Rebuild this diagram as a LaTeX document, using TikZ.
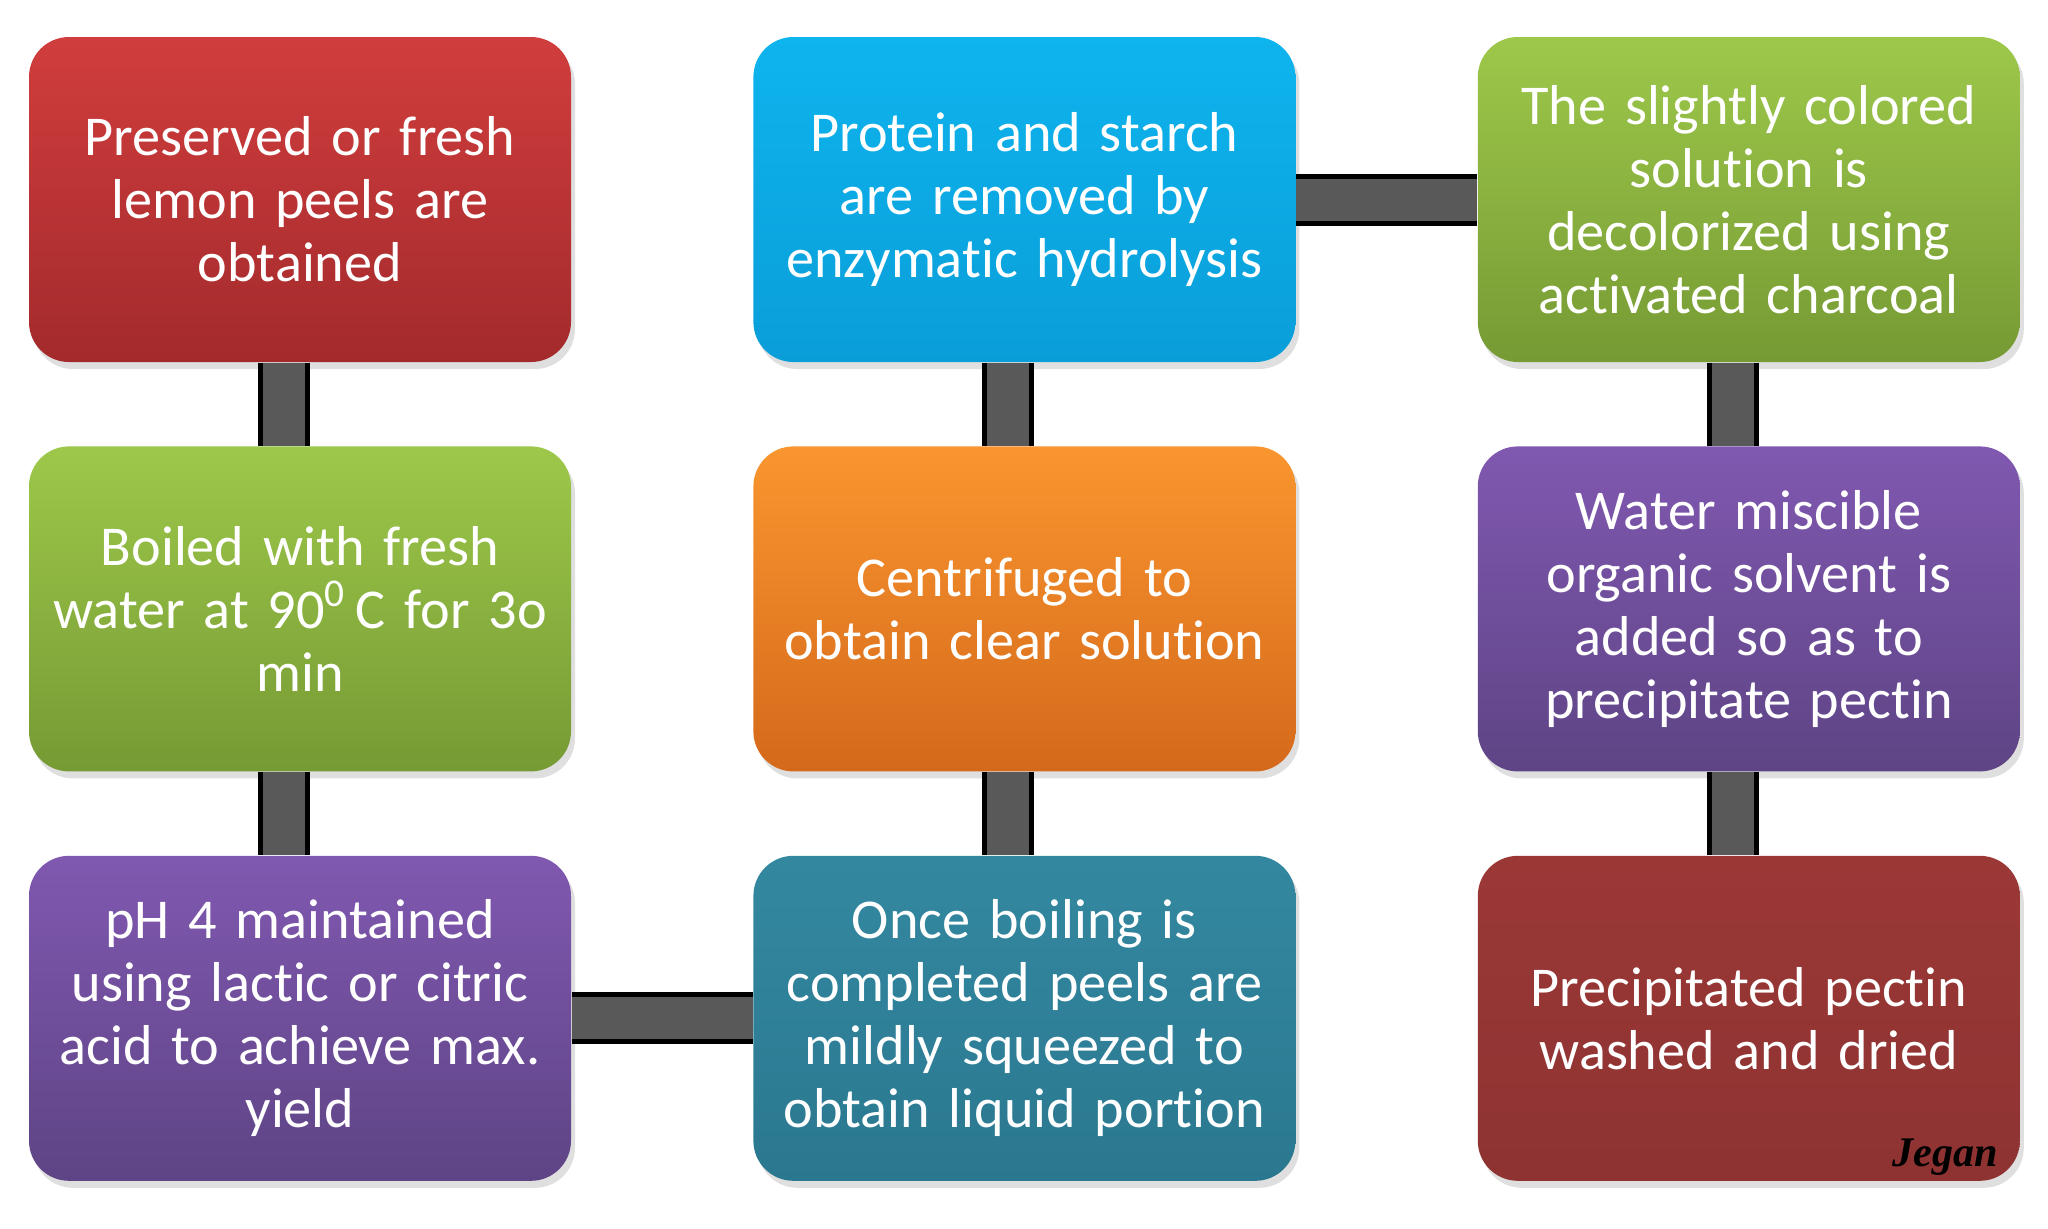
\documentclass[tikz,border=0pt]{standalone}
\usepackage{fontspec}
\setmainfont{Carlito}[RawFeature={-liga;-calt;-clig}]
\newfontfamily\signfont{Liberation Serif}
\usepackage{tikz}
\usetikzlibrary{positioning, shadows, calc}
\usepackage{xcolor}

\definecolor{redtop}{HTML}{D13D3D}
\definecolor{redbot}{HTML}{A32A2C}
\definecolor{greentop}{HTML}{9DC84A}
\definecolor{greenbot}{HTML}{769A34}
\definecolor{bluetop}{HTML}{0EB4EE}
\definecolor{bluebot}{HTML}{0A9ED9}
\definecolor{orangetop}{HTML}{F9962F}
\definecolor{orangebot}{HTML}{D5691B}
\definecolor{purpletop}{HTML}{8058B0}
\definecolor{purplebot}{HTML}{5E4485}
\definecolor{tealtop}{HTML}{3388A0}
\definecolor{tealbot}{HTML}{2A7890}
\definecolor{maroontop}{HTML}{9A3836}
\definecolor{maroonbot}{HTML}{8E3332}
\definecolor{barfill}{HTML}{595959}

\tikzset{
  stepbox/.style={rounded corners=0.4cm, minimum width=5.42cm, minimum height=3.25cm,
    text width=5.35cm, align=center, text=white, inner sep=0pt,
    font=\fontsize{16}{17.9}\selectfont,
    drop shadow={shadow xshift=0.04cm, shadow yshift=-0.07cm, opacity=0.25}},
  redbox/.style={stepbox, top color=redtop, bottom color=redbot},
  greenbox/.style={stepbox, top color=greentop, bottom color=greenbot},
  bluebox/.style={stepbox, top color=bluetop, bottom color=bluebot},
  orangebox/.style={stepbox, top color=orangetop, bottom color=orangebot},
  purplebox/.style={stepbox, top color=purpletop, bottom color=purplebot},
  tealbox/.style={stepbox, top color=tealtop, bottom color=tealbot},
  maroonbox/.style={stepbox, top color=maroontop, bottom color=maroonbot},
  barout/.style={line width=0.52cm, black},
  barin/.style={line width=0.42cm, barfill}
}

\begin{document}
\begin{tikzpicture}[node distance=0.83cm and 1.81cm]
  \useasboundingbox (0,0) rectangle (20.48,-12.29);

  % first column
  \node[redbox] (peels) at (3.00,-1.995) {Preserved or fresh\\ lemon peels are\\ obtained};
  \node[greenbox, below=of peels] (boil) {Boiled with fresh\\ water at 90\textsuperscript{0}\,C for 3o\\ min};
  \node[purplebox, below=of boil] (ph) {pH 4 maintained\\ using lactic or citric\\ acid to achieve max.\\ yield};

  % second column
  \node[tealbox, right=of ph] (squeeze) {Once boiling is\\ completed peels are\\ mildly squeezed to\\ obtain liquid portion};
  \node[orangebox, above=of squeeze] (centri) {Centrifuged to\\ obtain clear solution};
  \node[bluebox, above=of centri] (protein) {Protein and starch\\ are removed by\\ enzymatic hydrolysis};

  % third column
  \node[greenbox, right=of protein] (charcoal) {The slightly colored\\ solution is\\ decolorized using\\ activated charcoal};
  \node[purplebox, below=of charcoal] (solvent) {Water miscible\\ organic solvent is\\ added so as to\\ precipitate pectin};
  \node[maroonbox, below=of solvent] (dried) {Precipitated pectin\\ washed and dried};

  \node[anchor=south east, inner sep=0pt, font=\signfont\bfseries\itshape\large]
    (sign) at ($(dried.south east)+(-0.22,0.05)$) {Jegan};

  % connectors, drawn edge to edge
  \foreach \a/\b in {peels.south/boil.north, boil.south/ph.north,
      squeeze.north/centri.south, centri.north/protein.south,
      charcoal.south/solvent.north, solvent.south/dried.north} {
    \draw[barout] ([xshift=-0.16cm]\a) -- ([xshift=-0.16cm]\b);
    \draw[barin] ([xshift=-0.16cm]\a) -- ([xshift=-0.16cm]\b);
  }
  \foreach \a/\b in {ph.east/squeeze.west, protein.east/charcoal.west} {
    \draw[barout] (\a) -- (\b);
    \draw[barin] (\a) -- (\b);
  }
\end{tikzpicture}
\end{document}
